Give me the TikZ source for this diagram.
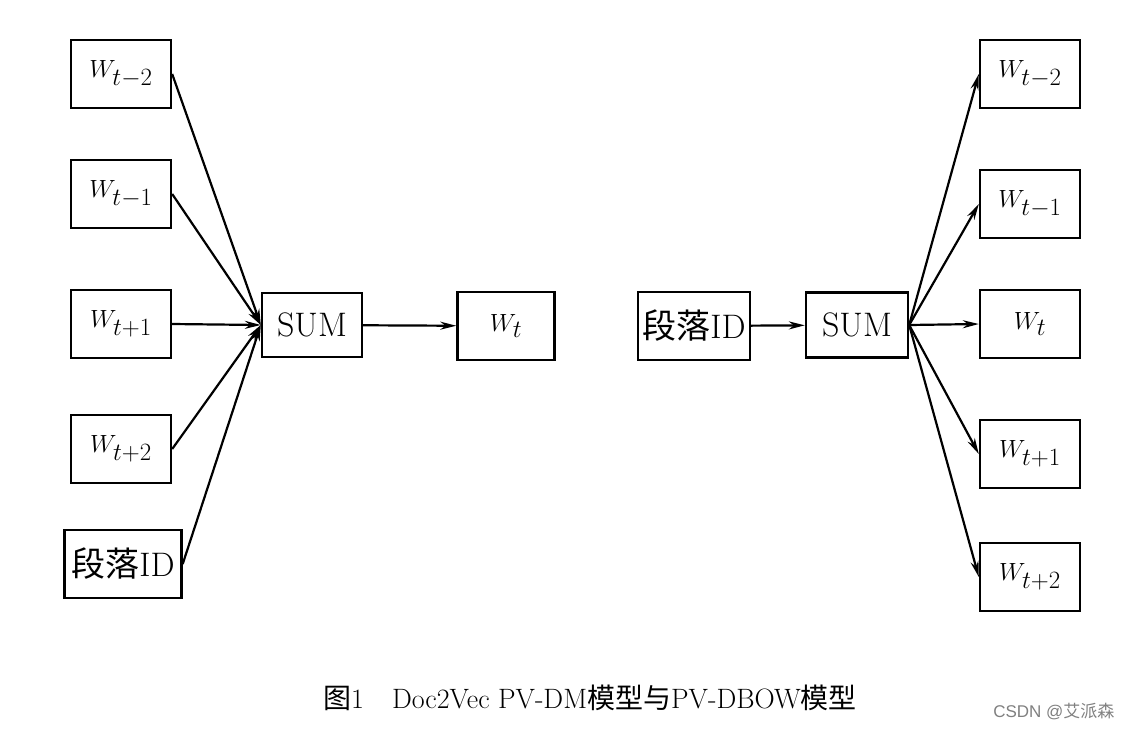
\documentclass[tikz,border=0pt]{standalone}
\usepackage{fontspec}
\newfontfamily\cjk{Noto Sans CJK SC}
\newfontfamily\wmfont{Liberation Sans}
\usetikzlibrary{arrows.meta}
\begin{document}
\begin{tikzpicture}[x=1pt,y=-1pt,
  bx/.style={draw,line width=2.4pt,minimum width=100pt,minimum height=68pt,inner sep=0pt,font=\fontsize{34}{34}\selectfont},
  ar/.style={line width=2.2pt,-{Stealth[length=16pt,width=8pt]}}]
\useasboundingbox (0,0) rectangle (1125,729);
\node[bx] (a1) at (121,74) {$W_{t-2}$};
\node[bx] (a2) at (121,194) {$W_{t-1}$};
\node[bx] (a3) at (121,324) {$W_{t+1}$};
\node[bx] (a4) at (121,449) {$W_{t+2}$};
\node[bx,minimum width=117pt] (a5) at (123,564) {{\cjk 段落}ID};
\node[bx,minimum height=64pt] (s1) at (312,325) {SUM};
\node[bx,minimum width=97pt] (wt) at (506,326) {$W_t$};
\node[bx,minimum width=112pt] (p) at (694,326) {{\cjk 段落}ID};
\node[bx,minimum width=102pt,minimum height=65pt] (s2) at (857,325) {SUM};
\node[bx] (b1) at (1030,74) {$W_{t-2}$};
\node[bx] (b2) at (1030,204) {$W_{t-1}$};
\node[bx] (b3) at (1030,324) {$W_t$};
\node[bx] (b4) at (1030,454) {$W_{t+1}$};
\node[bx] (b5) at (1030,577) {$W_{t+2}$};
\coordinate (sl) at (s1.west);
\foreach \n in {a1,a2,a3,a4,a5} \draw[ar] (\n.east) -- (sl);
\draw[ar] (s1) -- (wt);
\draw[ar] (p) -- (s2);
\foreach \n in {b1,b2,b3,b4,b5} \draw[ar] (s2.east) -- (\n.west);
\node[font=\fontsize{28}{28}\selectfont] (cap) at (590,698) {{\cjk 图}1\quad Doc2Vec PV-DM{\cjk 模型与}PV-DBOW{\cjk 模型}};
\node[font=\fontsize{17}{17}\selectfont,text=gray,anchor=east] (wm) at (1118,712) {\wmfont CSDN @{\cjk 艾派森}};
\end{tikzpicture}
\end{document}
